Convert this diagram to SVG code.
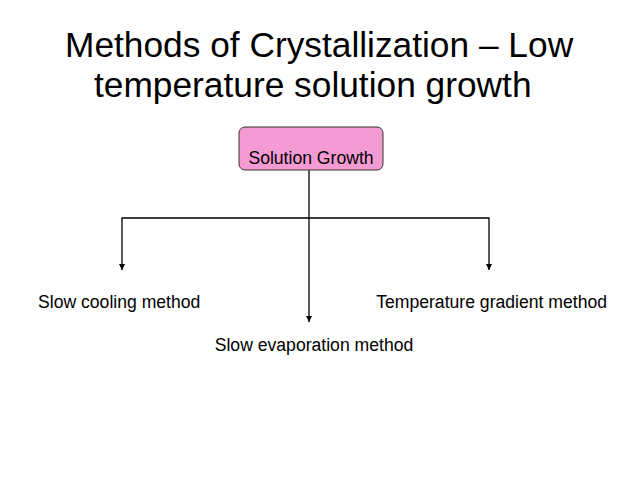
<svg xmlns="http://www.w3.org/2000/svg" width="638" height="479" viewBox="0 0 638 479">
<style>
.t{font-family:"Liberation Sans",Arial,sans-serif;fill:#000}
.title{font-size:35.3px}
.lbl{font-size:17.6px}
.c{stroke:#000;stroke-width:1.3;fill:none}
</style>
<defs>
<marker id="ah" viewBox="0 0 10 10" refX="10" refY="5" markerWidth="6" markerHeight="6" orient="auto" markerUnits="userSpaceOnUse">
<path d="M0,0 L10,5 L0,10 Z" fill="#000"/>
</marker>
</defs>
<rect width="638" height="479" fill="#fff"/>
<g id="title">
<text class="t title" x="65" y="57">Methods of Crystallization – Low</text>
<text class="t title" x="94" y="97">temperature solution growth</text>
</g>
<g id="connectors">
<line class="c" x1="309" y1="170" x2="309" y2="322" marker-end="url(#ah)"/>
<polyline class="c" points="309,218 122,218 122,270" marker-end="url(#ah)"/>
<polyline class="c" points="309,218 489,218 489,270" marker-end="url(#ah)"/>
</g>
<g id="root">
<rect x="239" y="127" width="144" height="43" rx="6" fill="#f59bd3" stroke="#333" stroke-width="1"/>
<text class="t lbl" x="311" y="164" text-anchor="middle">Solution Growth</text>
</g>
<g id="slow-cooling">
<text class="t lbl" x="38" y="308">Slow cooling method</text>
</g>
<g id="temp-gradient">
<text class="t lbl" x="607" y="308" text-anchor="end">Temperature gradient method</text>
</g>
<g id="slow-evaporation">
<text class="t lbl" x="314" y="351" text-anchor="middle">Slow evaporation method</text>
</g>
</svg>
